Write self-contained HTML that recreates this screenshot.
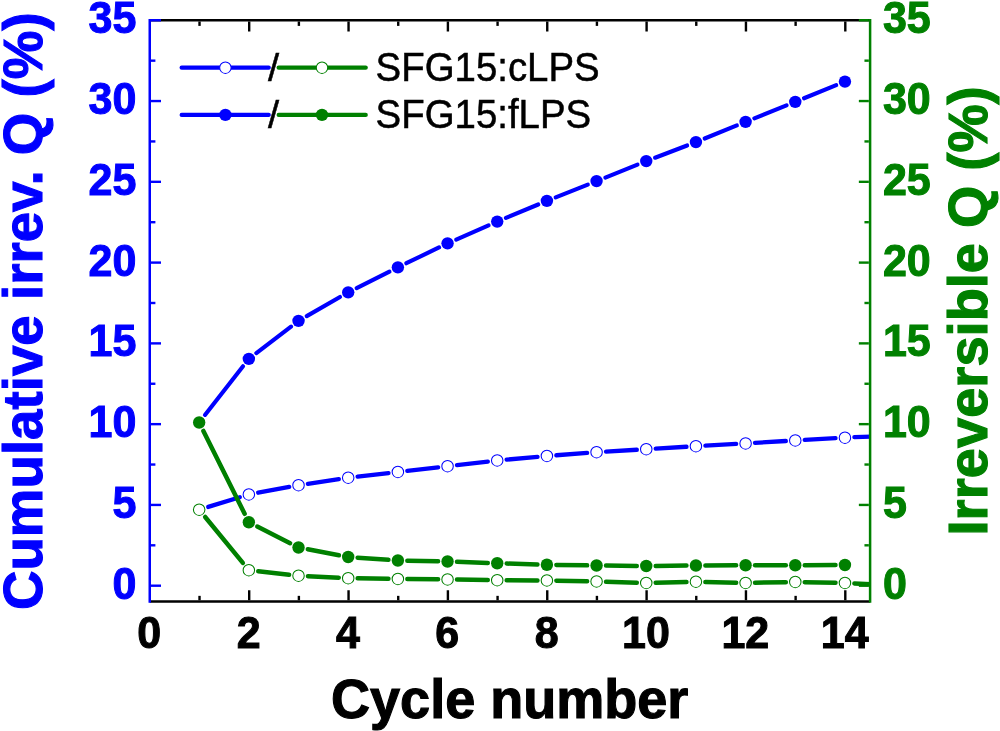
<!DOCTYPE html>
<html lang="en"><head><meta charset="utf-8"><title>Cycle number chart</title>
<style>html,body{margin:0;padding:0;background:#fff}body{width:1000px;height:731px;overflow:hidden}svg{display:block}</style>
</head><body>
<svg width="1000" height="731" viewBox="0 0 1000 731">
<rect width="1000" height="731" fill="#fff"/>
<clipPath id="cp"><rect x="149.75" y="20.25" width="720.35" height="581.25"/></clipPath>
<g clip-path="url(#cp)">
<g stroke="#0000ff" stroke-width="4.3" stroke-linecap="round" fill="none"><line x1="208.20" y1="506.93" x2="239.82" y2="497.22"/><line x1="258.14" y1="492.72" x2="289.23" y2="486.93"/><line x1="307.86" y1="483.79" x2="338.86" y2="479.11"/><line x1="357.59" y1="476.61" x2="388.49" y2="473.04"/><line x1="407.27" y1="470.86" x2="438.16" y2="467.29"/><line x1="456.94" y1="465.11" x2="487.83" y2="461.54"/><line x1="506.63" y1="459.60" x2="537.49" y2="456.80"/><line x1="556.32" y1="455.24" x2="587.15" y2="452.91"/><line x1="606.00" y1="451.63" x2="636.82" y2="449.77"/><line x1="655.68" y1="448.63" x2="686.49" y2="446.77"/><line x1="705.36" y1="445.68" x2="736.16" y2="443.97"/><line x1="755.03" y1="442.88" x2="785.84" y2="441.02"/><line x1="804.71" y1="439.93" x2="835.51" y2="438.22"/><line x1="854.39" y1="437.20" x2="874.50" y2="436.40"/></g>
<g fill="#fff" stroke="#0000ff" stroke-width="1.05"><circle cx="248.85" cy="494.45" r="5.73"/><circle cx="298.52" cy="485.2" r="5.73"/><circle cx="348.2" cy="477.7" r="5.73"/><circle cx="397.88" cy="471.95" r="5.73"/><circle cx="447.55" cy="466.2" r="5.73"/><circle cx="497.22" cy="460.45" r="5.73"/><circle cx="546.9" cy="455.95" r="5.73"/><circle cx="596.57" cy="452.2" r="5.73"/><circle cx="646.25" cy="449.2" r="5.73"/><circle cx="695.92" cy="446.2" r="5.73"/><circle cx="745.6" cy="443.45" r="5.73"/><circle cx="795.27" cy="440.45" r="5.73"/><circle cx="844.95" cy="437.7" r="5.73"/></g>
<g stroke="#0000ff" stroke-width="4.15" stroke-linecap="round" fill="none"><line x1="204.99" y1="414.91" x2="243.03" y2="366.29"/><line x1="256.36" y1="353.11" x2="291.01" y2="326.59"/><line x1="306.72" y1="316.15" x2="340.00" y2="297.05"/><line x1="356.64" y1="288.10" x2="389.44" y2="271.60"/><line x1="406.39" y1="263.24" x2="439.04" y2="247.46"/><line x1="456.21" y1="239.56" x2="488.56" y2="225.39"/><line x1="505.94" y1="217.96" x2="538.18" y2="204.49"/><line x1="555.68" y1="197.36" x2="587.79" y2="184.59"/><line x1="605.34" y1="177.57" x2="637.48" y2="164.63"/><line x1="655.08" y1="157.72" x2="687.09" y2="145.48"/><line x1="704.67" y1="138.53" x2="736.85" y2="125.42"/><line x1="754.37" y1="118.32" x2="786.50" y2="105.38"/><line x1="804.02" y1="98.28" x2="836.20" y2="85.17"/></g>
<g fill="#0000ff"><circle cx="248.85" cy="358.85" r="6.2"/><circle cx="298.52" cy="320.85" r="6.2"/><circle cx="348.2" cy="292.35" r="6.2"/><circle cx="397.88" cy="267.35" r="6.2"/><circle cx="447.55" cy="243.35" r="6.2"/><circle cx="497.22" cy="221.6" r="6.2"/><circle cx="546.9" cy="200.85" r="6.2"/><circle cx="596.57" cy="181.1" r="6.2"/><circle cx="646.25" cy="161.1" r="6.2"/><circle cx="695.92" cy="142.1" r="6.2"/><circle cx="745.6" cy="121.85" r="6.2"/><circle cx="795.27" cy="101.85" r="6.2"/><circle cx="844.95" cy="81.6" r="6.2"/></g>
<g stroke="#008000" stroke-width="4.5" stroke-linecap="round" fill="none"><line x1="205.17" y1="517.00" x2="242.85" y2="562.90"/><line x1="258.24" y1="571.24" x2="289.13" y2="574.66"/><line x1="307.96" y1="576.17" x2="338.76" y2="577.73"/><line x1="357.65" y1="578.34" x2="388.43" y2="578.81"/><line x1="407.33" y1="579.05" x2="438.10" y2="579.35"/><line x1="457.00" y1="579.59" x2="487.77" y2="580.06"/><line x1="506.67" y1="580.25" x2="537.45" y2="580.40"/><line x1="556.35" y1="580.64" x2="587.12" y2="581.26"/><line x1="606.02" y1="581.74" x2="636.80" y2="582.66"/><line x1="655.70" y1="582.71" x2="686.47" y2="581.94"/><line x1="705.37" y1="581.94" x2="736.15" y2="582.71"/><line x1="755.05" y1="582.76" x2="785.82" y2="582.14"/><line x1="804.72" y1="582.14" x2="835.50" y2="582.76"/><line x1="854.39" y1="583.47" x2="874.50" y2="584.30"/></g>
<g fill="#fff" stroke="#008000" stroke-width="1.05"><circle cx="199.17" cy="509.7" r="5.73"/><circle cx="248.85" cy="570.2" r="5.73"/><circle cx="298.52" cy="575.7" r="5.73"/><circle cx="348.2" cy="578.2" r="5.73"/><circle cx="397.88" cy="578.95" r="5.73"/><circle cx="447.55" cy="579.45" r="5.73"/><circle cx="497.22" cy="580.2" r="5.73"/><circle cx="546.9" cy="580.45" r="5.73"/><circle cx="596.57" cy="581.45" r="5.73"/><circle cx="646.25" cy="582.95" r="5.73"/><circle cx="695.92" cy="581.7" r="5.73"/><circle cx="745.6" cy="582.95" r="5.73"/><circle cx="795.27" cy="581.95" r="5.73"/><circle cx="844.95" cy="582.95" r="5.73"/></g>
<g stroke="#008000" stroke-width="4.5" stroke-linecap="round" fill="none"><line x1="203.38" y1="430.96" x2="244.64" y2="513.79"/><line x1="257.27" y1="526.53" x2="290.10" y2="543.22"/><line x1="307.80" y1="549.27" x2="338.92" y2="555.23"/><line x1="357.63" y1="557.66" x2="388.45" y2="559.84"/><line x1="407.33" y1="560.69" x2="438.10" y2="561.31"/><line x1="456.99" y1="561.83" x2="487.78" y2="562.92"/><line x1="506.67" y1="563.54" x2="537.45" y2="564.46"/><line x1="556.35" y1="564.89" x2="587.12" y2="565.36"/><line x1="606.02" y1="565.60" x2="636.80" y2="565.90"/><line x1="655.70" y1="565.90" x2="686.47" y2="565.60"/><line x1="705.37" y1="565.45" x2="736.15" y2="565.30"/><line x1="755.05" y1="565.25" x2="785.82" y2="565.25"/><line x1="804.72" y1="565.20" x2="835.50" y2="565.05"/></g>
<g fill="#008000"><circle cx="199.17" cy="422.5" r="6.2"/><circle cx="248.85" cy="522.25" r="6.2"/><circle cx="298.52" cy="547.5" r="6.2"/><circle cx="348.2" cy="557.0" r="6.2"/><circle cx="397.88" cy="560.5" r="6.2"/><circle cx="447.55" cy="561.5" r="6.2"/><circle cx="497.22" cy="563.25" r="6.2"/><circle cx="546.9" cy="564.75" r="6.2"/><circle cx="596.57" cy="565.5" r="6.2"/><circle cx="646.25" cy="566.0" r="6.2"/><circle cx="695.92" cy="565.5" r="6.2"/><circle cx="745.6" cy="565.25" r="6.2"/><circle cx="795.27" cy="565.25" r="6.2"/><circle cx="844.95" cy="565.0" r="6.2"/></g>
</g>
<g stroke="#000000" stroke-width="2.5" fill="none">
<line x1="149.75" y1="20.25" x2="870.1" y2="20.25"/><line x1="149.75" y1="601.5" x2="870.1" y2="601.5"/>
</g>
<g stroke="#000000" stroke-width="2.4" fill="none">
<line x1="199.52" y1="21.5" x2="199.52" y2="25.9"/>
<line x1="199.52" y1="600.25" x2="199.52" y2="595.85"/>
<line x1="249.20" y1="21.5" x2="249.20" y2="31.5"/>
<line x1="249.20" y1="600.25" x2="249.20" y2="590.25"/>
<line x1="298.88" y1="21.5" x2="298.88" y2="25.9"/>
<line x1="298.88" y1="600.25" x2="298.88" y2="595.85"/>
<line x1="348.55" y1="21.5" x2="348.55" y2="31.5"/>
<line x1="348.55" y1="600.25" x2="348.55" y2="590.25"/>
<line x1="398.23" y1="21.5" x2="398.23" y2="25.9"/>
<line x1="398.23" y1="600.25" x2="398.23" y2="595.85"/>
<line x1="447.90" y1="21.5" x2="447.90" y2="31.5"/>
<line x1="447.90" y1="600.25" x2="447.90" y2="590.25"/>
<line x1="497.57" y1="21.5" x2="497.57" y2="25.9"/>
<line x1="497.57" y1="600.25" x2="497.57" y2="595.85"/>
<line x1="547.25" y1="21.5" x2="547.25" y2="31.5"/>
<line x1="547.25" y1="600.25" x2="547.25" y2="590.25"/>
<line x1="596.92" y1="21.5" x2="596.92" y2="25.9"/>
<line x1="596.92" y1="600.25" x2="596.92" y2="595.85"/>
<line x1="646.60" y1="21.5" x2="646.60" y2="31.5"/>
<line x1="646.60" y1="600.25" x2="646.60" y2="590.25"/>
<line x1="696.27" y1="21.5" x2="696.27" y2="25.9"/>
<line x1="696.27" y1="600.25" x2="696.27" y2="595.85"/>
<line x1="745.95" y1="21.5" x2="745.95" y2="31.5"/>
<line x1="745.95" y1="600.25" x2="745.95" y2="590.25"/>
<line x1="795.62" y1="21.5" x2="795.62" y2="25.9"/>
<line x1="795.62" y1="600.25" x2="795.62" y2="595.85"/>
<line x1="845.30" y1="21.5" x2="845.30" y2="31.5"/>
<line x1="845.30" y1="600.25" x2="845.30" y2="590.25"/>
</g>
<g stroke="#0000ff" fill="none">
<line x1="149.75" y1="19.0" x2="149.75" y2="602.75" stroke-width="2.5"/>
<line x1="151.0" y1="585.70" x2="161.0" y2="585.70" stroke-width="2.4"/>
<line x1="151.0" y1="545.31" x2="155.4" y2="545.31" stroke-width="2.4"/>
<line x1="151.0" y1="504.93" x2="161.0" y2="504.93" stroke-width="2.4"/>
<line x1="151.0" y1="464.54" x2="155.4" y2="464.54" stroke-width="2.4"/>
<line x1="151.0" y1="424.15" x2="161.0" y2="424.15" stroke-width="2.4"/>
<line x1="151.0" y1="383.76" x2="155.4" y2="383.76" stroke-width="2.4"/>
<line x1="151.0" y1="343.38" x2="161.0" y2="343.38" stroke-width="2.4"/>
<line x1="151.0" y1="302.99" x2="155.4" y2="302.99" stroke-width="2.4"/>
<line x1="151.0" y1="262.60" x2="161.0" y2="262.60" stroke-width="2.4"/>
<line x1="151.0" y1="222.21" x2="155.4" y2="222.21" stroke-width="2.4"/>
<line x1="151.0" y1="181.83" x2="161.0" y2="181.83" stroke-width="2.4"/>
<line x1="151.0" y1="141.44" x2="155.4" y2="141.44" stroke-width="2.4"/>
<line x1="151.0" y1="101.05" x2="161.0" y2="101.05" stroke-width="2.4"/>
<line x1="151.0" y1="60.66" x2="155.4" y2="60.66" stroke-width="2.4"/>
<line x1="151.0" y1="20.25" x2="161.0" y2="20.25" stroke-width="2.5"/>
</g>
<g stroke="#008000" fill="none">
<line x1="870.1" y1="19.0" x2="870.1" y2="602.75" stroke-width="2.5"/>
<line x1="868.85" y1="585.70" x2="858.85" y2="585.70" stroke-width="2.4"/>
<line x1="868.85" y1="545.31" x2="864.45" y2="545.31" stroke-width="2.4"/>
<line x1="868.85" y1="504.93" x2="858.85" y2="504.93" stroke-width="2.4"/>
<line x1="868.85" y1="464.54" x2="864.45" y2="464.54" stroke-width="2.4"/>
<line x1="868.85" y1="424.15" x2="858.85" y2="424.15" stroke-width="2.4"/>
<line x1="868.85" y1="383.76" x2="864.45" y2="383.76" stroke-width="2.4"/>
<line x1="868.85" y1="343.38" x2="858.85" y2="343.38" stroke-width="2.4"/>
<line x1="868.85" y1="302.99" x2="864.45" y2="302.99" stroke-width="2.4"/>
<line x1="868.85" y1="262.60" x2="858.85" y2="262.60" stroke-width="2.4"/>
<line x1="868.85" y1="222.21" x2="864.45" y2="222.21" stroke-width="2.4"/>
<line x1="868.85" y1="181.83" x2="858.85" y2="181.83" stroke-width="2.4"/>
<line x1="868.85" y1="141.44" x2="864.45" y2="141.44" stroke-width="2.4"/>
<line x1="868.85" y1="101.05" x2="858.85" y2="101.05" stroke-width="2.4"/>
<line x1="868.85" y1="60.66" x2="864.45" y2="60.66" stroke-width="2.4"/>
<line x1="868.85" y1="20.25" x2="858.85" y2="20.25" stroke-width="2.5"/>
</g>
<g font-family="Liberation Sans, Arial, sans-serif" font-weight="bold" font-size="43.0" stroke-width="1" stroke-linejoin="miter">
<text transform="translate(136.40,598.60) scale(1,1.05)" text-anchor="end" fill="#0000ff" stroke="#0000ff">0</text>
<text transform="translate(882.90,598.60) scale(1,1.05)" text-anchor="start" fill="#008000" stroke="#008000">0</text>
<text transform="translate(136.40,517.83) scale(1,1.05)" text-anchor="end" fill="#0000ff" stroke="#0000ff">5</text>
<text transform="translate(882.90,517.83) scale(1,1.05)" text-anchor="start" fill="#008000" stroke="#008000">5</text>
<text transform="translate(136.40,437.05) scale(1,1.05)" text-anchor="end" fill="#0000ff" stroke="#0000ff">10</text>
<text transform="translate(882.90,437.05) scale(1,1.05)" text-anchor="start" fill="#008000" stroke="#008000">10</text>
<text transform="translate(136.40,356.28) scale(1,1.05)" text-anchor="end" fill="#0000ff" stroke="#0000ff">15</text>
<text transform="translate(882.90,356.28) scale(1,1.05)" text-anchor="start" fill="#008000" stroke="#008000">15</text>
<text transform="translate(136.40,275.50) scale(1,1.05)" text-anchor="end" fill="#0000ff" stroke="#0000ff">20</text>
<text transform="translate(882.90,275.50) scale(1,1.05)" text-anchor="start" fill="#008000" stroke="#008000">20</text>
<text transform="translate(136.40,194.73) scale(1,1.05)" text-anchor="end" fill="#0000ff" stroke="#0000ff">25</text>
<text transform="translate(882.90,194.73) scale(1,1.05)" text-anchor="start" fill="#008000" stroke="#008000">25</text>
<text transform="translate(136.40,113.95) scale(1,1.05)" text-anchor="end" fill="#0000ff" stroke="#0000ff">30</text>
<text transform="translate(882.90,113.95) scale(1,1.05)" text-anchor="start" fill="#008000" stroke="#008000">30</text>
<text transform="translate(136.40,33.17) scale(1,1.05)" text-anchor="end" fill="#0000ff" stroke="#0000ff">35</text>
<text transform="translate(882.90,33.17) scale(1,1.05)" text-anchor="start" fill="#008000" stroke="#008000">35</text>
<text transform="translate(149.25,647.80) scale(1,1.05)" text-anchor="middle" fill="#000000" stroke="#000000">0</text>
<text transform="translate(248.60,647.80) scale(1,1.05)" text-anchor="middle" fill="#000000" stroke="#000000">2</text>
<text transform="translate(347.95,647.80) scale(1,1.05)" text-anchor="middle" fill="#000000" stroke="#000000">4</text>
<text transform="translate(447.30,647.80) scale(1,1.05)" text-anchor="middle" fill="#000000" stroke="#000000">6</text>
<text transform="translate(546.65,647.80) scale(1,1.05)" text-anchor="middle" fill="#000000" stroke="#000000">8</text>
<text transform="translate(646.00,647.80) scale(1,1.05)" text-anchor="middle" fill="#000000" stroke="#000000">10</text>
<text transform="translate(745.35,647.80) scale(1,1.05)" text-anchor="middle" fill="#000000" stroke="#000000">12</text>
<text transform="translate(844.70,647.80) scale(1,1.05)" text-anchor="middle" fill="#000000" stroke="#000000">14</text>
</g>
<g font-family="Liberation Sans, Arial, sans-serif" font-weight="bold" stroke-width="1.1" stroke-linejoin="miter">
<text transform="translate(509.7,717.5) scale(1,1.012)" font-size="54.05" text-anchor="middle" fill="#000000" stroke="#000000">Cycle number</text>
<text transform="translate(42.2,311.2) rotate(-90) scale(1,1.012)" font-size="54.7" text-anchor="middle" fill="#0000ff" stroke="#0000ff">Cumulative irrev. Q (%)</text>
<text transform="translate(986.9,310.9) rotate(-90) scale(1,1.012)" font-size="54.25" text-anchor="middle" fill="#008000" stroke="#008000">Irreversible Q (%)</text>
</g>
<line x1="181.7" y1="67.7" x2="268.7" y2="67.7" stroke="#0000ff" stroke-width="4.3" stroke-linecap="round"/><g fill="#fff" stroke="#0000ff" stroke-width="1.05"><circle cx="225.4" cy="67.7" r="5.73"/></g><line x1="278.7" y1="67.7" x2="365.7" y2="67.7" stroke="#008000" stroke-width="4.3" stroke-linecap="round"/><g fill="#fff" stroke="#008000" stroke-width="1.05"><circle cx="322.0" cy="67.7" r="5.73"/></g>
<line x1="181.7" y1="114.9" x2="268.7" y2="114.9" stroke="#0000ff" stroke-width="4.3" stroke-linecap="round"/><g fill="#0000ff"><circle cx="225.4" cy="114.9" r="6.2"/></g><line x1="278.7" y1="114.9" x2="365.7" y2="114.9" stroke="#008000" stroke-width="4.3" stroke-linecap="round"/><g fill="#008000"><circle cx="322.0" cy="114.9" r="6.2"/></g>
<g font-family="Liberation Sans, Arial, sans-serif" font-size="38.4" fill="#000000" stroke="#000000" stroke-width="0.5">
<text transform="translate(268,80.6) scale(1.04,1.0)">/</text>
<text transform="translate(375.6,80.6) scale(1,1.055)">SFG15:cLPS</text>
<text transform="translate(268,127.8) scale(1.04,1.0)">/</text>
<text transform="translate(375.6,127.8) scale(1,1.055)">SFG15:fLPS</text>
</g>
</svg>
</body></html>
